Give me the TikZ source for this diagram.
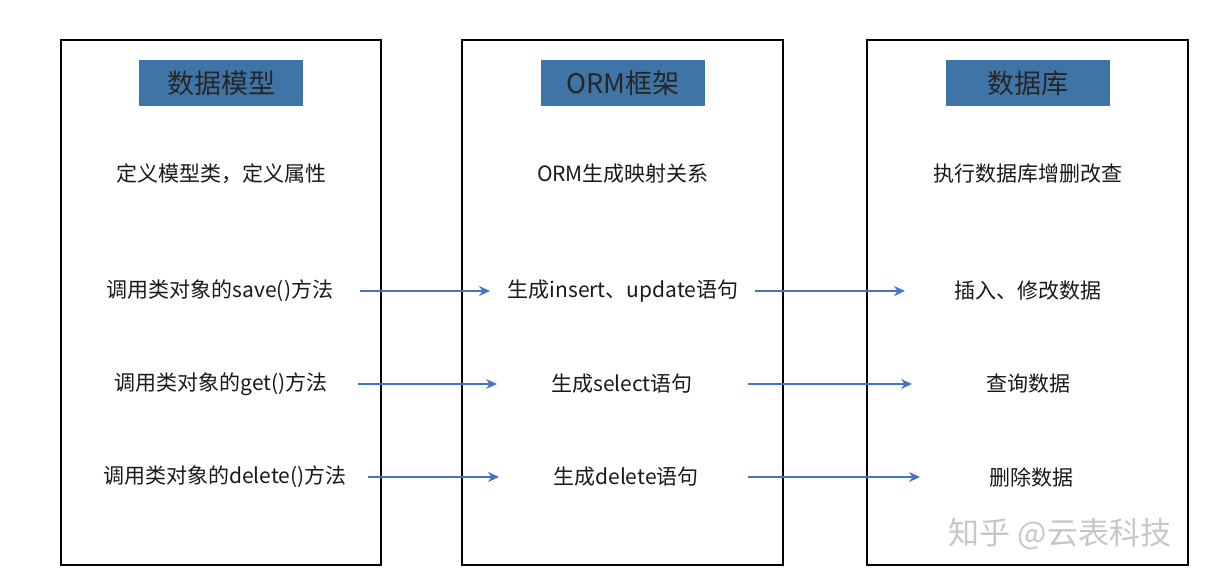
\documentclass[tikz,border=0pt]{standalone}
\usepackage{fontspec}
\setmainfont{Liberation Sans}
\newfontfamily\cjk{Noto Sans CJK SC}
\usetikzlibrary{arrows.meta}
\definecolor{tb}{RGB}{62,117,166}
\definecolor{ar}{RGB}{68,114,196}
\begin{document}
\begin{tikzpicture}[x=1pt,y=-1pt,
  box/.style={draw=black,line width=1.6pt},
  title/.style={fill=tb,minimum width=164pt,minimum height=46pt,font=\fontsize{27}{27}\selectfont\cjk,text=black!85},
  txt/.style={font=\fontsize{21}{21}\selectfont\cjk,text=black!90},
  arr/.style={draw=ar,line width=1.3pt,-{Stealth[length=11pt,width=10pt]}}]
\useasboundingbox (0,0) rectangle (1223,581);
\draw[box] (61,40) rectangle (381,565);
\draw[box] (462,40) rectangle (783,565);
\draw[box] (867,40) rectangle (1188,565);
\node[title] (t1) at (221,83) {数据模型};
\node[title] (t2) at (623,83) {ORM框架};
\node[title] (t3) at (1028,83) {数据库};
\node[txt] (a0) at (221,174) {定义模型类，定义属性};
\node[txt] (b0) at (623,174) {ORM生成映射关系};
\node[txt] (c0) at (1028,174) {执行数据库增删改查};
\node[txt] (a1) at (220,291) {调用类对象的save()方法};
\node[txt] (b1) at (623,291) {生成insert、update语句};
\node[txt] (c1) at (1028,291) {插入、修改数据};
\node[txt] (a2) at (221,384) {调用类对象的get()方法};
\node[txt] (b2) at (622,384) {生成select语句};
\node[txt] (c2) at (1028,384) {查询数据};
\node[txt] (a3) at (225,477) {调用类对象的delete()方法};
\node[txt] (b3) at (626,477) {生成delete语句};
\node[txt] (c3) at (1031,477) {删除数据};
\coordinate (p1) at (360,291); \coordinate (q1) at (490,291);
\coordinate (r1) at (755,291); \coordinate (s1) at (905,291);
\coordinate (p2) at (358,384); \coordinate (q2) at (497,384);
\coordinate (r2) at (748,384); \coordinate (s2) at (912,384);
\coordinate (p3) at (368,477); \coordinate (q3) at (499,477);
\coordinate (r3) at (748,477); \coordinate (s3) at (920,477);
\draw[arr] (p1) -- (q1); \draw[arr] (r1) -- (s1);
\draw[arr] (p2) -- (q2); \draw[arr] (r2) -- (s2);
\draw[arr] (p3) -- (q3); \draw[arr] (r3) -- (s3);
\node[font=\fontsize{31}{31}\selectfont\cjk,text=black!22] (wm) at (1060,534) {知乎 @云表科技};
\end{tikzpicture}
\end{document}
